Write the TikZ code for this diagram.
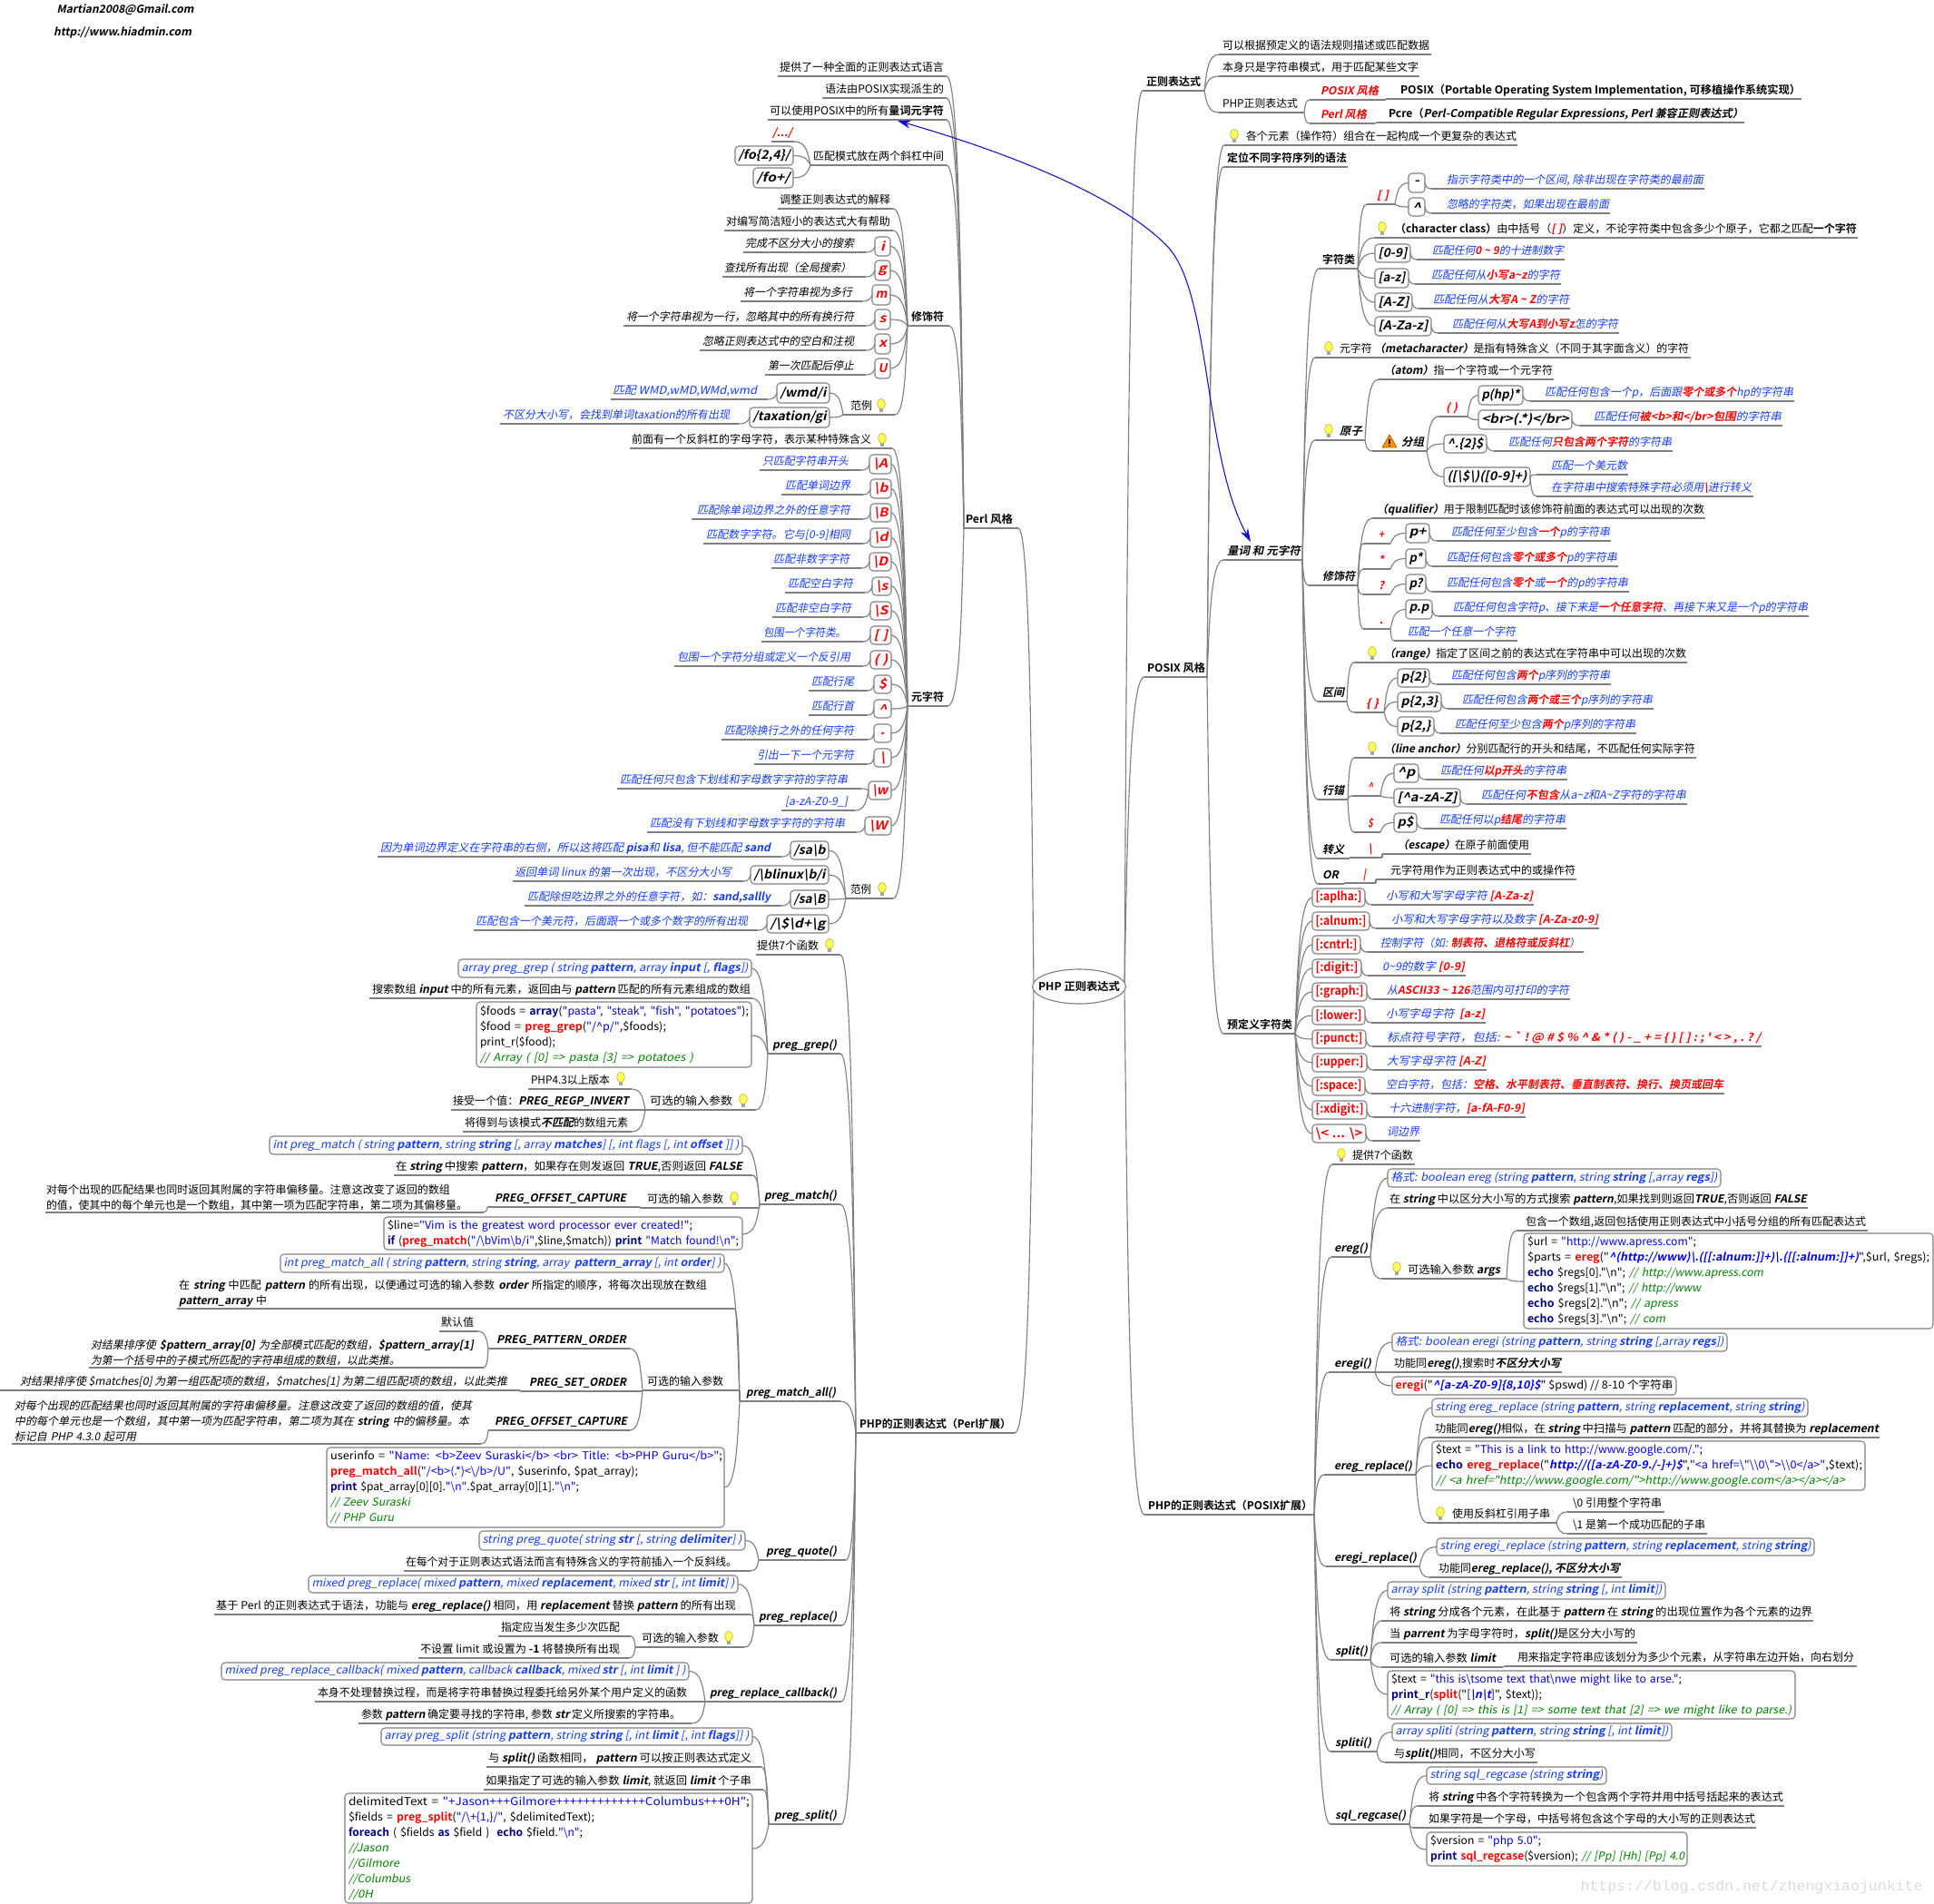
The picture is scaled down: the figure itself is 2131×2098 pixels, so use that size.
\documentclass[tikz,border=0pt]{standalone}
\usepackage{fontspec}
\usepackage{graphicx}
\usetikzlibrary{calc,arrows.meta,shapes.geometric}
\newfontfamily\mainmm{Noto Sans CJK SC}[ItalicFont={Noto Sans CJK SC},ItalicFeatures={FakeSlant=0.2},BoldFont={Noto Sans CJK SC Bold},BoldItalicFont={Noto Sans CJK SC Bold},BoldItalicFeatures={FakeSlant=0.2}]
\newfontfamily\wmfont{Liberation Mono}
\definecolor{mmblue}{RGB}{20,60,255}
\definecolor{mmgray}{RGB}{128,128,128}
\definecolor{mmnavy}{RGB}{0,0,136}
\definecolor{mmgreen}{RGB}{0,128,0}
\definecolor{mmarrow}{RGB}{16,16,204}
\definecolor{bulbY}{RGB}{255,255,90}
\definecolor{bulbE}{RGB}{190,170,40}
\newsavebox\fitbx
\newlength\fitlen
\newcommand\fitw[2]{\sbox\fitbx{#2}\setlength\fitlen{\wd\fitbx}\pgfmathsetmacro\fitsc{min(1.2,(#1)*0.75/\fitlen)}\scalebox{\fitsc}[1]{\usebox\fitbx}}
\newcommand\cl[2]{\fitw{#1}{#2}}
\newcommand\kb[1]{{\bfseries #1}}
\newcommand\ki[1]{{\bfseries\itshape #1}}
\newcommand\kr[1]{{\color{red}\bfseries\itshape #1}}
\newcommand\ckw[1]{{\color{mmnavy}\bfseries #1}}
\newcommand\cst[1]{{\color{blue}#1}}
\newcommand\cfn[1]{{\color{red}\bfseries #1}}
\newcommand\ccm[1]{{\color{mmgreen}\itshape #1}}
\newcommand\tld{\textasciitilde}
\newcommand\crt{\textasciicircum}
\newcommand\bsl{\textbackslash}
\newcommand\mmfont{\mainmm\fontsize{9}{12.75}\selectfont}
\newcommand\mbfont{\mainmm\fontsize{10}{12}\selectfont}
\tikzset{
  every node/.style={inner sep=0pt,outer sep=0pt},
  lf/.style={anchor=base,font=\mmfont},
  bd/.style={font=\mmfont\bfseries},
  bi/.style={font=\mmfont\bfseries\itshape},
  it/.style={font=\mmfont\itshape},
  bl/.style={text=mmblue,font=\mmfont\itshape},
  rb/.style={text=red,font=\mmfont\bfseries\itshape},
  conn/.style={draw=mmgray,line width=0.85pt},
  mm/.style={to path={let \p1=(\tikztostart),\p2=(\tikztotarget) in .. controls (\x1+0.15*\x2-0.15*\x1,\y1+0.5*\y2-0.5*\y1) and (\x1+0.25*\x2-0.25*\x1,\y2) .. (\tikztotarget)}},
  bxn/.style={draw=mmgray,line width=0.8pt,rounded corners=3pt,fill=white,font=\mmfont},
  bxk/.style={font=\mbfont\bfseries\itshape},
  bxr/.style={text=red,font=\mbfont\bfseries\itshape},
  brr/.style={text=red,font=\mbfont\bfseries},
  bxb/.style={text=mmblue,font=\mmfont\itshape},
  bxp/.style={font=\mmfont},
  mla/.style={anchor=south west,align=left,font=\mmfont},
  cdb/.style={align=left,font=\mmfont}
}
\newcommand\mmR[9]{%
  \coordinate (#3-i) at (#4,#6);
  \coordinate (#3-o) at (#5,#6);
  \node[lf,#1] (#3) at ({(#7+#8)/2},{#6-5.5}) {\fitw{#8-#7}{#9}};
  \draw[conn] (#2-o) to[mm] (#3-i);
  \draw[conn] (#3-i) -- (#3-o);
}
\newcommand\mmL[9]{%
  \coordinate (#3-i) at (#5,#6);
  \coordinate (#3-o) at (#4,#6);
  \node[lf,#1] (#3) at ({(#7+#8)/2},{#6-5.5}) {\fitw{#8-#7}{#9}};
  \draw[conn] (#2-o) to[mm] (#3-i);
  \draw[conn] (#3-i) -- (#3-o);
}
% multi-line leaf on the left: {parent}{name}{x1}{x2}{y}{text left}{width}{lines}
\newcommand\mmM[8]{%
  \coordinate (#2-i) at (#4,#5);
  \coordinate (#2-o) at (#3,#5);
  \pgfmathsetmacro\mlw{(#7)*0.75}
  \node[mla,text width=\mlw pt] (#2) at (#6,{#5-2}) {#8};
  \draw[conn] (#1-o) to[mm] (#2-i);
  \draw[conn] (#2-i) -- (#2-o);
}
\newcommand\bxR[8]{%
  \coordinate (#3-i) at (#4,{(#5+#7)/2});
  \coordinate (#3-o) at (#6,{(#5+#7)/2});
  \draw[conn] (#2-o) to[mm] (#3-i);
  \node[bxn,#1,minimum width={(#6-#4)*0.75pt},minimum height={(#7-#5)*0.75pt}] (#3) at ({(#4+#6)/2},{(#5+#7)/2}) {\fitw{#6-#4-7}{#8}};
}
\newcommand\bxL[8]{%
  \coordinate (#3-i) at (#6,{(#5+#7)/2});
  \coordinate (#3-o) at (#4,{(#5+#7)/2});
  \draw[conn] (#2-o) to[mm] (#3-i);
  \node[bxn,#1,minimum width={(#6-#4)*0.75pt},minimum height={(#7-#5)*0.75pt}] (#3) at ({(#4+#6)/2},{(#5+#7)/2}) {\fitw{#6-#4-7}{#8}};
}
% code boxes: {parent}{name}{l}{t}{r}{b}{connector y}{lines}
\newcommand\cdR[8]{%
  \coordinate (#2-i) at (#3,#7);
  \draw[conn] (#1-o) to[mm] (#2-i);
  \pgfmathsetmacro\mlw{(#5-#3-8)*0.75}
  \node[bxn,cdb,text width=\mlw pt,minimum width={(#5-#3)*0.75pt},minimum height={(#6-#4)*0.75pt}] (#2) at ({(#3+#5)/2},{(#4+#6)/2}) {#8};
}
\newcommand\cdL[8]{%
  \coordinate (#2-i) at (#5,#7);
  \draw[conn] (#1-o) to[mm] (#2-i);
  \pgfmathsetmacro\mlw{(#5-#3-8)*0.75}
  \node[bxn,cdb,text width=\mlw pt,minimum width={(#5-#3)*0.75pt},minimum height={(#6-#4)*0.75pt}] (#2) at ({(#3+#5)/2},{(#4+#6)/2}) {#8};
}
\newcommand\bulb[2]{%
  \fill[gray!70] ({#1-2},{#2+3}) rectangle ({#1+2},{#2+7});
  \draw[fill=bulbY,draw=bulbE,line width=0.4pt] (#1,{#2-2}) ellipse [x radius=3.3pt,y radius=4.2pt];
}
\newcommand\warnicon[2]{%
  \draw[fill=orange!85!yellow,draw=orange!70!black,line width=0.5pt,line join=round] (#1,{#2-8}) -- ({#1+8},{#2+6}) -- ({#1-8},{#2+6}) -- cycle;
  \draw[line width=1.1pt] (#1,{#2-3}) -- (#1,{#2+2});
  \fill (#1,{#2+4}) circle (0.6pt);
}
\begin{document}
\begin{tikzpicture}[x=0.75pt,y=-0.75pt]
\useasboundingbox (0,0) rectangle (2131,2098);
\fill[white] (0,0) rectangle (2131,2098);
\node[font=\mmfont\bfseries\itshape,anchor=base] (mail) at (138,15) {\fitw{151}{Martian2008@Gmail.com}};
\node[font=\mmfont\bfseries\itshape,anchor=base] (site) at (135,40) {\fitw{152}{http://www.hiadmin.com}};
\node[text=black!14,font=\wmfont\fontsize{12}{14}\selectfont,anchor=base] (wm) at (1930,2083) {\fitw{377}{https://blog.csdn.net/zhengxiaojunkite}};
\coordinate (ctrl-o) at (1139,1087);
\coordinate (ctrr-o) at (1239,1087);
% ---------- right: 正则表达式
\mmR{bd}{ctrr}{re}{1259}{1327}{100}{1263}{1323}{正则表达式}
\mmR{}{re}{rea}{1343}{1577}{60}{1347}{1575}{可以根据预定义的语法规则描述或匹配数据}
\mmR{}{re}{reb}{1343}{1564}{84}{1347}{1563}{本身只是字符串模式，用于匹配某些文字}
\mmR{}{re}{rec}{1343}{1437}{124}{1347}{1430}{PHP正则表达式}
\mmR{rb}{rec}{psx}{1443}{1527}{110}{1455}{1519}{POSIX 风格}
\mmR{bd}{psx}{psxa}{1527}{1985}{109}{1543}{1984}{POSIX（Portable Operating System Implementation, 可移植操作系统实现）}
\mmR{rb}{rec}{prl}{1443}{1515}{136}{1455}{1506}{Perl 风格}
\mmR{bd}{prl}{prla}{1517}{1922}{135}{1530}{1921}{Pcre（\itshape Perl-Compatible Regular Expressions, Perl 兼容正则表达式）}
% ---------- POSIX 风格
\mmR{bd}{ctrr}{posix}{1261}{1330}{746}{1264}{1328}{POSIX 风格}
\mmR{}{posix}{pa}{1349}{1672}{160}{1373}{1671}{各个元素（操作符）组合在一起构成一个更复杂的表达式}
\bulb{1360}{150}
\mmR{bd}{posix}{pb}{1348}{1485}{184}{1352}{1484}{定位不同字符序列的语法}
\mmR{bi}{posix}{q}{1348}{1435}{617}{1352}{1433}{量词 和 元字符}
\mmR{bd}{q}{zfl}{1453}{1496}{296}{1457}{1493}{字符类}
\mmR{rb}{zfl}{brk}{1506}{1537}{225}{1517}{1530}{[ ]}
\bxR{bxk}{brk}{bxa}{1552}{191}{1570}{212}{-}
\mmR{bl}{bxa}{la}{1577}{1878}{208}{1594}{1877}{指示字符类中的一个区间, 除非出现在字符类的最前面}
\bxR{bxk}{brk}{bxc}{1552}{218}{1570}{238}{\crt}
\mmR{bl}{bxc}{lc}{1577}{1774}{235}{1594}{1773}{忽略的字符类，如果出现在最前面}
\mmR{}{zfl}{cc}{1514}{2047}{262}{1537}{2046}{\kb{（character class）}由中括号（\kr{[ ]}）定义，不论字符类中包含多少个原子，它都之匹配\kb{一个字符}}
\bulb{1523}{252}
\bxR{bxk}{zfl}{bda}{1515}{269}{1554}{289}{[0-9]}
\mmR{bl}{bda}{lda}{1561}{1724}{286}{1578}{1723}{匹配任何\kr{0 \tld\ 9}的十进制数字}
\bxR{bxk}{zfl}{bdb}{1515}{296}{1552}{317}{[a-z]}
\mmR{bl}{bdb}{ldb}{1559}{1720}{313}{1577}{1719}{匹配任何从\kr{小写a\tld z}的字符}
\bxR{bxk}{zfl}{bdc}{1515}{323}{1556}{343}{[A-Z]}
\mmR{bl}{bdc}{ldc}{1563}{1730}{340}{1579}{1729}{匹配任何从\kr{大写A \tld\ Z}的字符}
\bxR{bxk}{zfl}{bdd}{1515}{349}{1577}{370}{[A-Za-z]}
\mmR{bl}{bdd}{ldd}{1584}{1784}{367}{1600}{1783}{匹配任何从\kr{大写A到小写z}怎的字符}
\mmR{}{q}{mc}{1449}{1863}{394}{1476}{1861}{元字符 \ki{（metacharacter）}是指有特殊含义（不同于其字面含义）的字符}
\bulb{1464}{384}
\mmR{bi}{q}{at}{1449}{1504}{485}{1476}{1501}{原子}
\bulb{1464}{475}
\mmR{}{at}{atm}{1519}{1712}{418}{1525}{1711}{\ki{（atom）}指一个字符或一个元字符}
\mmR{bi}{at}{grp}{1512}{1572}{497}{1544}{1569}{分组}
\warnicon{1531}{487}
\mmR{rb}{grp}{par}{1585}{1617}{459}{1593}{1606}{( )}
\bxR{bxk}{par}{phb}{1629}{425}{1678}{446}{p(hp)*}
\mmR{bl}{phb}{phl}{1686}{1977}{442}{1702}{1976}{匹配任何包含一个p，后面跟\kr{零个或多个}hp的字符串}
\bxR{bxk}{par}{brb}{1629}{452}{1732}{473}{<br>(.*)</br>}
\mmR{bl}{brb}{brl}{1740}{1964}{469}{1756}{1963}{匹配任何\kr{被<b>和</br>包围}的字符串}
\bxR{bxk}{grp}{dtb}{1591}{479}{1638}{499}{\crt.\{2\}\$}
\mmR{bl}{dtb}{dtl}{1646}{1843}{497}{1662}{1842}{匹配任何\kr{只包含两个字符}的字符串}
\bxR{bxk}{grp}{dlb}{1591}{515}{1686}{536}{([\bsl\$\bsl)([0-9]+)}
\mmR{bl}{dlb}{dla}{1693}{1794}{523}{1709}{1793}{匹配一个美元数}
\mmR{bl}{dlb}{dlc}{1693}{1932}{547}{1709}{1930}{在字符串中搜索特殊字符必须用\kr{\bsl}进行转义}
\mmR{bi}{q}{ql}{1442}{1496}{645}{1457}{1493}{修饰符}
\mmR{}{ql}{qf}{1512}{1879}{571}{1517}{1878}{\ki{（qualifier）}用于限制匹配时该修饰符前面的表达式可以出现的次数}
\mmR{rb}{ql}{qp}{1502}{1532}{599}{1519}{1525}{+}
\bxR{bxk}{qp}{qpb}{1549}{577}{1575}{598}{p+}
\mmR{bl}{qpb}{qpl}{1583}{1775}{596}{1599}{1774}{匹配任何至少包含\kr{一个}p的字符串}
\mmR{rb}{ql}{qs}{1502}{1532}{627}{1519}{1525}{*}
\bxR{bxk}{qs}{qsb}{1549}{605}{1571}{626}{p*}
\mmR{bl}{qsb}{qsl}{1578}{1783}{624}{1594}{1782}{匹配任何包含\kr{零个或多个}p的字符串}
\mmR{rb}{ql}{qm}{1502}{1532}{655}{1519}{1525}{?}
\bxR{bxk}{qm}{qmb}{1549}{633}{1571}{654}{p?}
\mmR{bl}{qmb}{qml}{1578}{1795}{652}{1594}{1794}{匹配任何包含\kr{零个}或\kr{一个}的p的字符串}
\mmR{rb}{ql}{qd}{1502}{1532}{693}{1519}{1525}{.}
\bxR{bxk}{qd}{qdb}{1549}{661}{1578}{682}{p.p}
\mmR{bl}{qdb}{qdl}{1585}{1993}{679}{1601}{1992}{匹配任何包含字符p、接下来是\kr{一个任意字符}、再接下来又是一个p的字符串}
\mmR{bl}{qd}{qde}{1536}{1672}{706}{1551}{1670}{匹配一个任意一个字符}
\mmR{bi}{q}{rg}{1452}{1484}{773}{1457}{1481}{区间}
\mmR{}{rg}{rga}{1492}{1859}{730}{1525}{1858}{\ki{（range）}指定了区间之前的表达式在字符串中可以出现的次数}
\bulb{1512}{720}
\mmR{rb}{rg}{rgb}{1492}{1525}{785}{1505}{1519}{\{ \}}
\bxR{bxk}{rgb}{rba}{1540}{737}{1575}{757}{p\{2\}}
\mmR{bl}{rba}{rla}{1583}{1775}{754}{1599}{1774}{匹配任何包含\kr{两个}p序列的字符串}
\bxR{bxk}{rgb}{rbb}{1540}{763}{1588}{784}{p\{2,3\}}
\mmR{bl}{rbb}{rlb}{1595}{1822}{781}{1611}{1821}{匹配任何包含\kr{两个或三个}p序列的字符串}
\bxR{bxk}{rgb}{rbc}{1540}{790}{1580}{811}{p\{2,\}}
\mmR{bl}{rbc}{rlc}{1587}{1803}{808}{1603}{1802}{匹配任何至少包含\kr{两个}p序列的字符串}
\mmR{bi}{q}{an}{1452}{1485}{881}{1457}{1481}{行锚}
\mmR{}{an}{ana}{1492}{1869}{835}{1525}{1868}{\ki{（line anchor）}分别匹配行的开头和结尾，不匹配任何实际字符}
\bulb{1512}{825}
\mmR{rb}{an}{anb}{1490}{1521}{877}{1507}{1513}{\crt}
\bxR{bxk}{anb}{aba}{1536}{842}{1563}{862}{\crt p}
\mmR{bl}{aba}{ala}{1571}{1727}{859}{1587}{1726}{匹配任何\kr{以p开头}的字符串}
\bxR{bxk}{anb}{abb}{1536}{869}{1609}{889}{[\crt a-zA-Z]}
\mmR{bl}{abb}{alb}{1616}{1859}{886}{1632}{1858}{匹配任何\kr{不包含}从a\tld z和A\tld Z字符的字符串}
\mmR{rb}{an}{anc}{1492}{1521}{917}{1507}{1513}{\$}
\bxR{bxk}{anc}{abc}{1536}{896}{1561}{917}{p\$}
\mmR{bl}{abc}{alc}{1569}{1726}{913}{1586}{1725}{匹配任何以p\kr{结尾}的字符串}
\mmR{bi}{q}{esc}{1452}{1487}{946}{1457}{1481}{转义}
\mmR{rb}{esc}{escb}{1487}{1523}{945}{1507}{1512}{\bsl}
\mmR{}{escb}{escl}{1523}{1687}{941}{1540}{1685}{\ki{（escape）}在原子前面使用}
\mmR{bi}{q}{orn}{1452}{1481}{974}{1457}{1475}{OR}
\mmR{rb}{orn}{orb}{1481}{1516}{973}{1502}{1505}{|}
\mmR{}{orb}{orl}{1516}{1737}{969}{1532}{1736}{元字符用作为正则表达式中的或操作符}
% 预定义字符类
\mmR{bd}{posix}{pre}{1348}{1427}{1139}{1352}{1424}{预定义字符类}
\bxR{brr}{pre}{ca}{1446}{979}{1504}{999}{[:aplha:]}
\mmR{bl}{ca}{cal}{1511}{1690}{997}{1527}{1689}{小写和大写字母字符 \kr{[A-Za-z]}}
\bxR{brr}{pre}{cb}{1446}{1005}{1509}{1025}{[:alnum:]}
\mmR{bl}{cb}{cbl}{1516}{1762}{1023}{1533}{1761}{小写和大写字母字符以及数字 \kr{[A-Za-z0-9]}}
\bxR{brr}{pre}{cc}{1446}{1031}{1499}{1051}{[:cntrl:]}
\mmR{bl}{cc}{ccl}{1506}{1745}{1049}{1521}{1741}{控制字符（如: \kr{制表符、退格符或反斜杠}）}
\bxR{brr}{pre}{cd}{1446}{1057}{1500}{1077}{[:digit:]}
\mmR{bl}{cd}{cdl}{1507}{1615}{1075}{1523}{1614}{0\tld 9的数字 \kr{[0-9]}}
\bxR{brr}{pre}{ce}{1446}{1083}{1506}{1103}{[:graph:]}
\mmR{bl}{ce}{cel}{1513}{1730}{1101}{1528}{1729}{从\kr{ASCII33 \tld\ 126}范围内可打印的字符}
\bxR{brr}{pre}{cf}{1446}{1109}{1504}{1129}{[:lower:]}
\mmR{bl}{cf}{cfl}{1511}{1637}{1127}{1527}{1636}{小写字母字符 \ \kr{[a-z]}}
\bxR{brr}{pre}{cg}{1446}{1135}{1505}{1155}{[:punct:]}
\mmR{bl}{cg}{cgl}{1512}{1941}{1153}{1528}{1940}{标点符号字符，包括: \kr{\tld\ `\ !\ @\ \#\ \$\ \%\ \crt\ \&\ *\ (\ )\ -\ \_\ +\ =\ \{\ \}\ [\ ]\ :\ ;\ '\ <\ >\ ,\ .\ ?\ /}}
\bxR{brr}{pre}{ch}{1446}{1161}{1506}{1181}{[:upper:]}
\mmR{bl}{ch}{chl}{1513}{1638}{1179}{1528}{1637}{大写字母字符 \kr{[A-Z]}}
\bxR{brr}{pre}{ci}{1446}{1187}{1504}{1207}{[:space:]}
\mmR{bl}{ci}{cil}{1511}{1900}{1205}{1527}{1899}{空白字符，包括：\kr{空格、水平制表符、垂直制表符、换行、换页或回车}}
\bxR{brr}{pre}{cj}{1446}{1213}{1506}{1233}{[:xdigit:]}
\mmR{bl}{cj}{cjl}{1513}{1681}{1231}{1530}{1680}{十六进制字符，\kr{[a-fA-F0-9]}}
\bxR{brr}{pre}{ck}{1446}{1239}{1505}{1259}{\bsl< ... \bsl>}
\mmR{bl}{ck}{ckl}{1512}{1565}{1257}{1528}{1564}{词边界}
% ---------- PHP POSIX
\mmR{bd}{ctrr}{px}{1261}{1448}{1669}{1265}{1446}{PHP的正则表达式（POSIX扩展）}
\mmR{}{px}{pxa}{1468}{1559}{1283}{1490}{1557}{提供7个函数}
\bulb{1478}{1273}
\mmR{bi}{px}{eg}{1467}{1510}{1385}{1470}{1507}{ereg()}
\bxR{bxb}{eg}{egb}{1529}{1288}{1896}{1308}{格式: boolean ereg (string \kb{pattern}, string \kb{string} [,array \kb{regs}])}
\mmR{}{eg}{egc}{1529}{1992}{1331}{1531}{1991}{在 \ki{string} 中以区分大小写的方式搜索 \ki{pattern},如果找到则返回\ki{TRUE},否则返回 \ki{FALSE}}
\mmR{}{eg}{egd}{1522}{1660}{1409}{1551}{1653}{可选输入参数 \ki{args}}
\bulb{1539}{1398}
\mmR{}{egd}{ege}{1671}{2058}{1356}{1681}{2056}{包含一个数组,返回包括使用正则表达式中小括号分组的所有匹配表达式}
\cdR{egd}{egf}{1679}{1359}{2130}{1464}{1412}{\cl{186}{\$url = \cst{"http://www.apress.com"};}\\
\cl{443}{\$parts = \cfn{ereg}("\cst{\ki{\crt(http://www)\bsl.([[:alnum:]]+)\bsl.([[:alnum:]]+)}}",\$url, \$regs);}\\
\cl{260}{\ckw{echo} \$regs[0]."\bsl n"; \ccm{// http://www.apress.com}}\\
\cl{191}{\ckw{echo} \$regs[1]."\bsl n"; \ccm{// http://www}}\\
\cl{166}{\ckw{echo} \$regs[2]."\bsl n"; \ccm{// apress}}\\
\cl{152}{\ckw{echo} \$regs[3]."\bsl n"; \ccm{// com}}}
\mmR{bi}{px}{ei}{1464}{1515}{1512}{1470}{1511}{eregi()}
\bxR{bxb}{ei}{eib}{1534}{1469}{1903}{1489}{格式: boolean eregi (string \kb{pattern}, string \kb{string} [,array \kb{regs}])}
\mmR{}{ei}{eic}{1519}{1721}{1512}{1536}{1720}{功能同\ki{ereg()},搜索时\ki{不区分大小写}}
\bxR{bxp}{ei}{eid}{1534}{1517}{1847}{1537}{\cfn{eregi}("\cst{\ki{\crt[a-zA-Z0-9]\{8,10\}\$}}" \$pswd) // 8-10 个字符串}
\mmR{bi}{px}{er}{1459}{1560}{1625}{1470}{1556}{ereg\_replace()}
\bxR{bxb}{er}{erb}{1578}{1541}{1992}{1561}{string ereg\_replace (string \kb{pattern}, string \kb{replacement}, string \kb{string})}
\mmR{}{er}{erc}{1573}{2071}{1584}{1581}{2070}{功能同\ki{ereg()}相似，在 \ki{string} 中扫描与 \ki{pattern} 匹配的部分，并将其替换为 \ki{replacement}}
\cdR{er}{erd}{1578}{1588}{2055}{1642}{1615}{\cl{294}{\$text = \cst{"This is a link to http://www.google.com/."};}\\
\cl{470}{\ckw{echo} \cfn{ereg\_replace}("\cst{\ki{http://([a-zA-Z0-9./-]+)\$}}",\cst{"<a href=\bsl"\bsl\bsl 0\bsl">\bsl\bsl 0</a>"},\$text);}\\
\cl{451}{\ccm{// <a href="http://www.google.com/">http://www.google.com</a></a></a>}}}
\mmR{}{er}{ere}{1573}{1715}{1678}{1600}{1708}{使用反斜杠引用子串}
\bulb{1587}{1668}
\mmR{}{ere}{erf}{1727}{1834}{1666}{1733}{1831}{\bsl 0 引用整个字符串}
\mmR{}{ere}{erg}{1727}{1881}{1690}{1733}{1879}{\bsl 1 是第一个成功匹配的子串}
\mmR{bi}{px}{ej}{1461}{1564}{1726}{1470}{1561}{eregi\_replace()}
\bxR{bxb}{ej}{ejb}{1583}{1695}{1999}{1714}{string eregi\_replace (string \kb{pattern}, string \kb{replacement}, string \kb{string})}
\mmR{}{ej}{ejc}{1575}{1787}{1738}{1585}{1785}{功能同\ki{ereg\_replace(), 不区分大小写}}
\mmR{bi}{px}{sp}{1466}{1510}{1829}{1471}{1507}{split()}
\bxR{bxb}{sp}{spb}{1529}{1743}{1835}{1762}{array split (string \kb{pattern}, string \kb{string} [, int \kb{limit}])}
\mmR{}{sp}{spc}{1522}{1998}{1786}{1531}{1997}{将 \ki{string} 分成各个元素，在此基于 \ki{pattern} 在 \ki{string} 的出现位置作为各个元素的边界}
\mmR{}{sp}{spd}{1522}{1804}{1810}{1531}{1802}{当 \ki{parrent} 为字母字符时，\ki{split()}是区分大小写的}
\mmR{}{sp}{spe}{1522}{1656}{1837}{1531}{1648}{可选的输入参数 \ki{limit}}
\mmR{}{spe}{spf}{1658}{2046}{1836}{1672}{2043}{用来指定字符串应该划分为多少个元素，从字符串左边开始，向右划分}
\cdR{sp}{spg}{1529}{1841}{1978}{1894}{1867}{\cl{320}{\$text = \cst{"this is\bsl tsome text that\bsl nwe might like to arse."};}\\
\cl{166}{\ckw{print\_r}(\cfn{split}("[\cst{\ki{\bsl n\bsl t}}]", \$text));}\\
\cl{441}{\ccm{// Array ( [0] => this is [1] => some text that [2] => we might like to parse.)}}}
\mmR{bi}{px}{si}{1466}{1517}{1930}{1471}{1511}{spliti()}
\bxR{bxb}{si}{sib}{1534}{1899}{1842}{1918}{array spliti (string \kb{pattern}, string \kb{string} [, int \kb{limit}])}
\mmR{}{si}{sic}{1526}{1694}{1942}{1536}{1692}{与\ki{split()}相同，不区分大小写}
\mmR{bi}{px}{sq}{1466}{1553}{2010}{1471}{1549}{sql\_regcase()}
\bxR{bxb}{sq}{sqb}{1572}{1947}{1770}{1966}{string sql\_regcase (string \kb{string})}
\mmR{}{sq}{sqc}{1562}{1966}{1990}{1574}{1965}{将 \ki{string} 中各个字符转换为一个包含两个字符并用中括号括起来的表达式}
\mmR{}{sq}{sqd}{1557}{1935}{2014}{1574}{1934}{如果字符是一个字母，中括号将包含这个字母的大小写的正则表达式}
\cdR{sq}{sqe}{1572}{2019}{1859}{2056}{2038}{\cl{122}{\$version = \cst{"php 5.0"};}\\
\cl{280}{\ckw{print} \cfn{sql\_regcase}(\$version); \ccm{// [Pp] [Hh] [Pp] 4.0}}}
% ---------- left: Perl 风格
\mmL{bd}{ctrl}{pl}{1062}{1122}{582}{1064}{1116}{Perl 风格}
\mmL{}{pl}{lpa}{857}{1043}{84}{859}{1040}{提供了一种全面的正则表达式语言}
\mmL{}{pl}{lpb}{906}{1043}{108}{909}{1040}{语法由POSIX实现派生的}
\mmL{}{pl}{lpc}{846}{1043}{132}{848}{1040}{可以使用POSIX中的所有\kb{量词元字符}}
\mmL{}{pl}{lpd}{893}{1043}{182}{896}{1040}{匹配模式放在两个斜杠中间}
\mmL{rb}{lpd}{lpe}{850}{875}{156}{851}{873}{/.../}
\bxL{bxk}{lpd}{lpf}{810}{161}{874}{182}{/fo\{2,4\}/}
\bxL{bxk}{lpd}{lpg}{830}{185}{874}{207}{/fo+/}
\mmL{bd}{pl}{md}{1000}{1046}{359}{1004}{1040}{修饰符}
\mmL{}{md}{mda}{857}{984}{230}{859}{981}{调整正则表达式的解释}
\mmL{}{md}{mdb}{798}{984}{254}{800}{981}{对编写简洁短小的表达式大有帮助}
\bxL{bxr}{md}{mi}{964}{261}{981}{282}{i}
\mmL{it}{mi}{mil}{819}{954}{278}{821}{941}{完成不区分大小的搜索}
\bxL{bxr}{md}{mg}{964}{287}{981}{309}{g}
\mmL{it}{mg}{mgl}{796}{954}{305}{798}{938}{查找所有出现（全局搜索）}
\bxL{bxr}{md}{mm}{961}{314}{981}{336}{m}
\mmL{it}{mm}{mml}{816}{950}{332}{819}{939}{将一个字符串视为多行}
\bxL{bxr}{md}{ms}{964}{341}{981}{363}{s}
\mmL{it}{ms}{msl}{687}{954}{359}{690}{941}{将一个字符串视为一行，忽略其中的所有换行符}
\bxL{bxr}{md}{mx}{964}{368}{981}{390}{x}
\mmL{it}{mx}{mxl}{771}{954}{386}{774}{941}{忽略正则表达式中的空白和注视}
\bxL{bxr}{md}{mu}{964}{395}{981}{417}{U}
\mmL{it}{mu}{mul}{843}{954}{413}{846}{941}{第一次匹配后停止}
\mmL{}{md}{me}{929}{986}{457}{937}{961}{范例}
\bulb{971}{447}
\bxL{bxk}{me}{mea}{856}{422}{914}{444}{/wmd/i}
\mmL{bl}{mea}{mel}{673}{846}{440}{675}{834}{匹配 WMD,wMD,WMd,wmd}
\bxL{bxk}{me}{meb}{826}{449}{914}{471}{/taxation/gi}
\mmL{bl}{meb}{mem}{551}{814}{467}{554}{804}{不区分大小写，会找到单词taxation的所有出现}
\mmL{bd}{pl}{ys}{1000}{1044}{778}{1004}{1040}{元字符}
\mmL{}{ys}{ysa}{694}{983}{494}{696}{960}{前面有一个反斜杠的字母字符，表示某种特殊含义}
\bulb{972}{485}
\bxL{bxr}{ys}{ya}{958}{501}{982}{522}{\bsl A}
\mmL{bl}{ya}{yal}{837}{949}{518}{840}{935}{只匹配字符串开头}
\bxL{bxr}{ys}{yb}{959}{528}{982}{549}{\bsl b}
\mmL{bl}{yb}{ybl}{861}{951}{545}{865}{937}{匹配单词边界}
\bxL{bxr}{ys}{yc}{959}{555}{982}{575}{\bsl B}
\mmL{bl}{yc}{ycl}{762}{951}{572}{768}{937}{匹配除单词边界之外的任意字符}
\bxL{bxr}{ys}{yd}{959}{582}{982}{603}{\bsl d}
\mmL{bl}{yd}{ydl}{775}{951}{599}{778}{937}{匹配数字字符。它与[0-9]相同}
\bxL{bxr}{ys}{ye}{958}{609}{982}{629}{\bsl D}
\mmL{bl}{ye}{yel}{850}{949}{626}{852}{936}{匹配非数字字符}
\bxL{bxr}{ys}{yf}{961}{636}{982}{656}{\bsl s}
\mmL{bl}{yf}{yfl}{865}{953}{653}{868}{940}{匹配空白字符}
\bxL{bxr}{ys}{yg}{959}{663}{982}{683}{\bsl S}
\mmL{bl}{yg}{ygl}{851}{951}{680}{854}{938}{匹配非空白字符}
\bxL{bxr}{ys}{yh}{959}{690}{982}{710}{[ ]}
\mmL{bl}{yh}{yhl}{839}{951}{707}{841}{932}{包围一个字符类。}
\bxL{bxr}{ys}{yi}{959}{717}{982}{737}{( )}
\mmL{bl}{yi}{yil}{743}{951}{734}{746}{937}{包围一个字符分组或定义一个反引用}
\bxL{bxr}{ys}{yj}{963}{744}{982}{764}{\$}
\mmL{bl}{yj}{yjl}{891}{956}{761}{894}{941}{匹配行尾}
\bxL{bxr}{ys}{yk}{963}{771}{982}{791}{\crt}
\mmL{bl}{yk}{ykl}{891}{956}{788}{894}{941}{匹配行首}
\bxL{bxr}{ys}{yl}{963}{798}{982}{818}{.}
\mmL{bl}{yl}{yll}{795}{956}{815}{798}{941}{匹配除换行之外的任何字符}
\bxL{bxr}{ys}{ym}{963}{825}{982}{845}{\bsl}
\mmL{bl}{ym}{yml}{831}{956}{842}{834}{941}{引出一下一个元字符}
\bxL{bxr}{ys}{yn}{957}{861}{982}{881}{\bsl w}
\mmL{bl}{yn}{ynl}{680}{949}{869}{683}{934}{匹配任何只包含下划线和字母数字字符的字符串}
\mmL{bl}{yn}{ynm}{861}{942}{893}{865}{934}{[a-zA-Z0-9\_]}
\bxL{bxr}{ys}{yo}{953}{900}{982}{920}{\bsl W}
\mmL{bl}{yo}{yol}{713}{944}{917}{716}{931}{匹配没有下划线和字母数字字符的字符串}
\mmL{}{ys}{yp}{932}{984}{990}{937}{960}{范例}
\bulb{972}{980}
\bxL{bxk}{yp}{ypa}{871}{927}{913}{947}{/sa\bsl b}
\mmL{bl}{ypa}{ypl}{416}{861}{944}{419}{849}{因为单词边界定义在字符串的右侧，所以这将匹配 \kb{pisa}和 \kb{lisa}, 但不能匹配 \kb{sand}}
\bxL{bxk}{yp}{ypb}{827}{954}{913}{974}{/\bsl blinux\bsl b/i}
\mmL{bl}{ypb}{ypm}{565}{819}{971}{567}{806}{返回单词 linux 的第一次出现，不区分大小写}
\bxL{bxk}{yp}{ypc}{871}{981}{913}{1001}{/sa\bsl B}
\mmL{bl}{ypc}{ypn}{578}{861}{998}{581}{849}{匹配除但吃边界之外的任意字符，如：\kb{sand,sallly}}
\bxL{bxk}{yp}{ypd}{845}{1008}{913}{1028}{/\bsl\$\bsl d+\bsl g}
\mmL{bl}{ypd}{ypo}{522}{835}{1025}{524}{824}{匹配包含一个美元符，后面跟一个或多个数字的所有出现}
% ---------- PHP Perl
\mmL{bd}{ctrl}{ph}{943}{1118}{1579}{947}{1114}{PHP的正则表达式（Perl扩展）}
\mmL{}{ph}{pha}{833}{926}{1052}{834}{902}{提供7个函数}
\bulb{914}{1042}
\mmL{bi}{ph}{gp}{846}{926}{1161}{851}{922}{preg\_grep()}
\bxL{bxb}{gp}{gpb}{505}{1057}{828}{1077}{array preg\_grep ( string \kb{pattern}, array \kb{input} [, \kb{flags}])}
\mmL{}{gp}{gpc}{407}{829}{1100}{410}{827}{搜索数组 \ki{input} 中的所有元素，返回由与 \ki{pattern} 匹配的所有元素组成的数组}
\cdL{gp}{gpd}{525}{1104}{828}{1176}{1141}{\cl{296}{\$foods = \ckw{array}(\cst{"pasta", "steak", "fish", "potatoes"});}\\
\cl{205}{\$food = \cfn{preg\_grep}(\cst{"/\crt p/"},\$foods);}\\
\cl{83}{print\_r(\$food);}\\
\cl{235}{\ccm{// Array ( [0] => pasta [3] => potatoes )}}}
\mmL{}{gp}{gpe}{711}{833}{1223}{716}{807}{可选的输入参数}
\bulb{819}{1213}
\mmL{}{gpe}{gpf}{582}{696}{1200}{585}{672}{PHP4.3以上版本}
\bulb{684}{1189}
\mmL{}{gpe}{gpg}{497}{711}{1223}{499}{693}{接受一个值：\ki{PREG\_REGP\_INVERT}}
\mmL{}{gpe}{gph}{510}{696}{1247}{512}{692}{将得到与该模式\ki{不匹配}的数组元素}
\mmL{bi}{ph}{gm}{837}{926}{1327}{842}{922}{preg\_match()}
\bxL{bxb}{gm}{gmb}{297}{1252}{818}{1272}{int preg\_match ( string \kb{pattern}, string \kb{string} [, array \kb{matches}] [, int flags [, int \kb{offset} ]] )}
\mmL{}{gm}{gmc}{434}{829}{1295}{436}{818}{在 \ki{string} 中搜索 \ki{pattern}，如果存在则发返回 \ki{TRUE},否则返回 \ki{FALSE}}
\mmL{}{gm}{gmd}{705}{836}{1331}{713}{797}{可选的输入参数}
\bulb{809}{1321}
\mmL{bi}{gmd}{gme}{537}{705}{1330}{545}{690}{PREG\_OFFSET\_CAPTURE}
\mmM{gme}{gmf}{50}{533}{1336}{51}{466}{\cl{445}{对每个出现的匹配结果也同时返回其附属的字符串偏移量。注意这改变了返回的数组}\\\cl{464}{的值，使其中的每个单元也是一个数组，其中第一项为匹配字符串，第二项为其偏移量。}}
\cdL{gm}{gmg}{423}{1341}{818}{1377}{1360}{\cl{336}{\$line=\cst{"Vim is the greatest word processor ever created!"};}\\
\cl{387}{\ckw{if} (\cfn{preg\_match}(\cst{"/\bsl bVim\bsl b/i"},\$line,\$match)) \ckw{print} \cst{"Match found!\bsl n"};}}
\mmL{bi}{ph}{ga}{815}{926}{1544}{822}{921}{preg\_match\_all()}
\bxL{bxb}{ga}{gab}{309}{1382}{798}{1402}{int preg\_match\_all ( string \kb{pattern}, string \kb{string}, array \ \kb{pattern\_array} [, int \kb{order}] )}
\mmM{ga}{gac}{195}{809}{1442}{197}{585}{\cl{582}{在 \ki{string} 中匹配 \ki{pattern} 的所有出现，以便通过可选的输入参数 \ki{order} 所指定的顺序，将每次出现放在数组}\\\cl{97}{\ki{pattern\_array} 中}}
\mmL{}{ga}{gad}{708}{815}{1532}{713}{797}{可选的输入参数}
\mmL{bi}{gad}{gae}{538}{694}{1486}{547}{690}{PREG\_PATTERN\_ORDER}
\mmL{}{gae}{gaf}{484}{527}{1467}{486}{522}{默认值}
\mmM{gae}{gag}{98}{533}{1507}{100}{424}{\cl{422}{\itshape 对结果排序使 \ki{\$pattern\_array[0]} 为全部模式匹配的数组，\ki{\$pattern\_array[1]}}\\\cl{341}{\itshape 为第一个括号中的子模式所匹配的字符串组成的数组，以此类推。}}
\mmL{bi}{gad}{gah}{573}{708}{1533}{583}{690}{PREG\_SET\_ORDER}
\mmL{it}{gah}{gai}{0}{573}{1532}{22}{559}{对结果排序使 \$matches[0] 为第一组匹配项的数组，\$matches[1] 为第二组匹配项的数组，以此类推}
\mmL{bi}{gad}{gaj}{538}{694}{1576}{545}{691}{PREG\_OFFSET\_CAPTURE}
\mmM{gaj}{gak}{13}{530}{1591}{16}{506}{\cl{504}{\itshape 对每个出现的匹配结果也同时返回其附属的字符串偏移量。注意这改变了返回的数组的值，使其}\\\cl{501}{\itshape 中的每个单元也是一个数组，其中第一项为匹配字符串，第二项为其在 \ki{string} 中的偏移量。本}\\\cl{134}{\itshape 标记自 PHP 4.3.0 起可用}}
\cdL{ga}{gal}{360}{1595}{798}{1683}{1639}{\cl{432}{userinfo = \cst{"Name: <b>Zeev Suraski</b> <br> Title: <b>PHP Guru</b>"};}\\
\cl{339}{\cfn{preg\_match\_all}(\cst{"/<b>(.*)<\bsl/b>/U"}, \$userinfo, \$pat\_array);}\\
\cl{274}{\ckw{print} \$pat\_array[0][0].\cst{"\bsl n"}.\$pat\_array[0][1].\cst{"\bsl n"};}\\
\cl{88}{\ccm{// Zeev Suraski}}\\
\cl{70}{\ccm{// PHP Guru}}}
\mmL{bi}{ph}{gq}{836}{932}{1719}{844}{922}{preg\_quote()}
\bxL{bxb}{gq}{gqb}{528}{1687}{821}{1708}{string preg\_quote( string \kb{str} [, string \kb{delimiter}] )}
\mmL{}{gq}{gqc}{445}{827}{1731}{447}{812}{在每个对于正则表达式语法而言有特殊含义的字符前插入一个反斜线。}
\mmL{bi}{ph}{gr}{831}{928}{1791}{836}{922}{preg\_replace()}
\bxL{bxb}{gr}{grb}{340}{1736}{813}{1755}{mixed preg\_replace( mixed \kb{pattern}, mixed \kb{replacement}, mixed \kb{str} [, int \kb{limit}] )}
\mmL{}{gr}{grc}{236}{827}{1779}{238}{811}{基于 Perl 的正则表达式于语法，功能与 \ki{ereg\_replace()} 相同，用 \ki{replacement} 替换 \ki{pattern} 的所有出现}
\mmL{}{gr}{grd}{700}{820}{1815}{707}{792}{可选的输入参数}
\bulb{803}{1805}
\mmL{}{grd}{gre}{549}{695}{1803}{552}{683}{指定应当发生多少次匹配}
\mmL{}{grd}{grf}{461}{693}{1827}{463}{683}{不设置 limit 或设置为 \kb{-1} 将替换所有出现}
\mmL{bi}{ph}{gs}{777}{927}{1875}{782}{922}{preg\_replace\_callback()}
\bxL{bxb}{gs}{gsb}{244}{1832}{759}{1851}{mixed preg\_replace\_callback( mixed \kb{pattern}, callback \kb{callback}, mixed \kb{str} [, int \kb{limit} ] )}
\mmL{}{gs}{gsc}{347}{774}{1875}{350}{757}{本身不处理替换过程，而是将字符串替换过程委托给另外某个用户定义的函数}
\mmL{}{gs}{gsd}{395}{762}{1899}{398}{750}{参数 \ki{pattern} 确定要寻找的字符串, 参数 \ki{str} 定义所搜索的字符串。}
\mmL{bi}{ph}{gt}{847}{927}{2010}{853}{922}{preg\_split()}
\bxL{bxb}{gt}{gtb}{420}{1904}{829}{1923}{array preg\_split (string \kb{pattern}, string \kb{string} [, int \kb{limit} [, int \kb{flags}]] )}
\mmL{}{gt}{gtc}{536}{839}{1947}{538}{828}{与 \ki{split()} 函数相同， \ki{pattern} 可以按正则表达式定义}
\mmL{}{gt}{gtd}{533}{841}{1972}{535}{828}{如果指定了可选的输入参数 \ki{limit}, 就返回 \ki{limit} 个子串}
\cdL{gt}{gte}{380}{1976}{829}{2097}{2037}{\cl{442}{delimitedText = \cst{"+Jason+++Gilmore+++++++++++++Columbus+++0H"};}\\
\cl{271}{\$fields = \cfn{preg\_split}(\cst{"/\bsl+\{1,\}/"}, \$delimitedText);}\\
\cl{258}{\ckw{foreach} ( \$fields \ckw{as} \$field ) \ \ckw{echo} \$field.\cst{"\bsl n"};}\\
\cl{44}{\ccm{//Jason}}\\
\cl{56}{\ccm{//Gilmore}}\\
\cl{68}{\ccm{//Columbus}}\\
\cl{27}{\ccm{//0H}}}
% center
\node[ellipse,draw=mmgray,line width=0.85pt,fill=white,inner xsep=-6.5pt,minimum width=100*0.75pt,minimum height=38*0.75pt,font=\mmfont\bfseries] (ctr) at (1189,1087) {\fitw{90}{PHP 正则表达式}};
% blue double arrow
\coordinate (arrA) at (989,133);
\coordinate (arrM) at (1285,270);
\coordinate (arrB) at (1378,597);
\draw[draw=mmarrow,line width=0.8pt,{Stealth[length=11pt,width=7pt]}-{Stealth[length=11pt,width=7pt]}] (arrA) .. controls (1110,168) and (1230,215) .. (arrM) .. controls (1335,320) and (1325,500) .. (arrB);
\end{tikzpicture}
\end{document}
